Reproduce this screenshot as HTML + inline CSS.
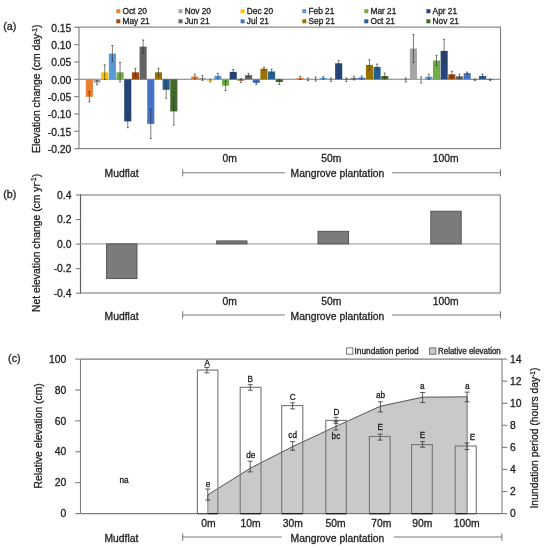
<!DOCTYPE html>
<html><head><meta charset="utf-8"><style>
html,body{margin:0;padding:0;background:#fff;}
svg{display:block;font-family:"Liberation Sans", sans-serif;filter:blur(0.3px);} text{stroke:#1e1e1e;stroke-width:0.3px;}
</style></head><body>
<svg width="545" height="550" viewBox="0 0 545 550">
<rect width="545" height="550" fill="#fff"/>
<rect x="116.30" y="9.20" width="4.00" height="4.00" fill="#ED7D31" stroke="none" stroke-width="0"/>
<text x="122.5" y="13.5" font-size="8.3" text-anchor="start" fill="#1e1e1e" >Oct 20</text>
<rect x="178.50" y="9.20" width="4.00" height="4.00" fill="#A5A5A5" stroke="none" stroke-width="0"/>
<text x="184.7" y="13.5" font-size="8.3" text-anchor="start" fill="#1e1e1e" >Nov 20</text>
<rect x="240.60" y="9.20" width="4.00" height="4.00" fill="#FFC000" stroke="none" stroke-width="0"/>
<text x="246.79999999999998" y="13.5" font-size="8.3" text-anchor="start" fill="#1e1e1e" >Dec 20</text>
<rect x="302.30" y="9.20" width="4.00" height="4.00" fill="#5B9BD5" stroke="none" stroke-width="0"/>
<text x="308.5" y="13.5" font-size="8.3" text-anchor="start" fill="#1e1e1e" >Feb 21</text>
<rect x="364.30" y="9.20" width="4.00" height="4.00" fill="#70AD47" stroke="none" stroke-width="0"/>
<text x="370.5" y="13.5" font-size="8.3" text-anchor="start" fill="#1e1e1e" >Mar 21</text>
<rect x="426.40" y="9.20" width="4.00" height="4.00" fill="#264478" stroke="none" stroke-width="0"/>
<text x="432.59999999999997" y="13.5" font-size="8.3" text-anchor="start" fill="#1e1e1e" >Apr 21</text>
<rect x="116.30" y="19.30" width="4.00" height="4.00" fill="#9E480E" stroke="none" stroke-width="0"/>
<text x="122.5" y="23.6" font-size="8.3" text-anchor="start" fill="#1e1e1e" >May 21</text>
<rect x="178.50" y="19.30" width="4.00" height="4.00" fill="#636363" stroke="none" stroke-width="0"/>
<text x="184.7" y="23.6" font-size="8.3" text-anchor="start" fill="#1e1e1e" >Jun 21</text>
<rect x="240.60" y="19.30" width="4.00" height="4.00" fill="#4472C4" stroke="none" stroke-width="0"/>
<text x="246.79999999999998" y="23.6" font-size="8.3" text-anchor="start" fill="#1e1e1e" >Jul 21</text>
<rect x="302.30" y="19.30" width="4.00" height="4.00" fill="#997300" stroke="none" stroke-width="0"/>
<text x="308.5" y="23.6" font-size="8.3" text-anchor="start" fill="#1e1e1e" >Sep 21</text>
<rect x="364.30" y="19.30" width="4.00" height="4.00" fill="#255E91" stroke="none" stroke-width="0"/>
<text x="370.5" y="23.6" font-size="8.3" text-anchor="start" fill="#1e1e1e" >Oct 21</text>
<rect x="426.40" y="19.30" width="4.00" height="4.00" fill="#43682B" stroke="none" stroke-width="0"/>
<text x="432.59999999999997" y="23.6" font-size="8.3" text-anchor="start" fill="#1e1e1e" >Nov 21</text>
<rect x="79.0" y="27.1" width="421.5" height="121.5" fill="none" stroke="#7c7c7c" stroke-width="1.1"/>
<line x1="74.2" y1="27.3" x2="79.0" y2="27.3" stroke="#7c7c7c" stroke-width="1.1"/>
<text x="71.3" y="31.700000000000003" font-size="10.35" text-anchor="end" fill="#1e1e1e" >0.15</text>
<line x1="74.2" y1="44.629999999999995" x2="79.0" y2="44.629999999999995" stroke="#7c7c7c" stroke-width="1.1"/>
<text x="71.3" y="49.029999999999994" font-size="10.35" text-anchor="end" fill="#1e1e1e" >0.10</text>
<line x1="74.2" y1="61.959999999999994" x2="79.0" y2="61.959999999999994" stroke="#7c7c7c" stroke-width="1.1"/>
<text x="71.3" y="66.36" font-size="10.35" text-anchor="end" fill="#1e1e1e" >0.05</text>
<line x1="74.2" y1="79.28999999999999" x2="79.0" y2="79.28999999999999" stroke="#7c7c7c" stroke-width="1.1"/>
<text x="71.3" y="83.69" font-size="10.35" text-anchor="end" fill="#1e1e1e" >0.00</text>
<line x1="74.2" y1="96.61999999999999" x2="79.0" y2="96.61999999999999" stroke="#7c7c7c" stroke-width="1.1"/>
<text x="71.3" y="101.02" font-size="10.35" text-anchor="end" fill="#1e1e1e" >-0.05</text>
<line x1="74.2" y1="113.94999999999999" x2="79.0" y2="113.94999999999999" stroke="#7c7c7c" stroke-width="1.1"/>
<text x="71.3" y="118.35" font-size="10.35" text-anchor="end" fill="#1e1e1e" >-0.10</text>
<line x1="74.2" y1="131.28" x2="79.0" y2="131.28" stroke="#7c7c7c" stroke-width="1.1"/>
<text x="71.3" y="135.68" font-size="10.35" text-anchor="end" fill="#1e1e1e" >-0.15</text>
<line x1="74.2" y1="148.60999999999999" x2="79.0" y2="148.60999999999999" stroke="#7c7c7c" stroke-width="1.1"/>
<text x="71.3" y="153.01" font-size="10.35" text-anchor="end" fill="#1e1e1e" >-0.20</text>
<line x1="79.0" y1="79.3" x2="500.5" y2="79.3" stroke="#7c7c7c" stroke-width="1.1"/>
<rect x="85.80" y="79.30" width="7.10" height="17.50" fill="#ED7D31" stroke="none" stroke-width="0"/>
<rect x="93.48" y="79.30" width="7.10" height="3.30" fill="#A5A5A5" stroke="none" stroke-width="0"/>
<rect x="101.16" y="72.30" width="7.10" height="7.00" fill="#FFC000" stroke="none" stroke-width="0"/>
<rect x="108.84" y="53.60" width="7.10" height="25.70" fill="#5B9BD5" stroke="none" stroke-width="0"/>
<rect x="116.52" y="72.30" width="7.10" height="7.00" fill="#70AD47" stroke="none" stroke-width="0"/>
<rect x="124.20" y="79.30" width="7.10" height="42.10" fill="#264478" stroke="none" stroke-width="0"/>
<rect x="131.88" y="72.30" width="7.10" height="7.00" fill="#9E480E" stroke="none" stroke-width="0"/>
<rect x="139.56" y="46.60" width="7.10" height="32.70" fill="#636363" stroke="none" stroke-width="0"/>
<rect x="147.24" y="79.30" width="7.10" height="44.60" fill="#4472C4" stroke="none" stroke-width="0"/>
<rect x="154.92" y="72.30" width="7.10" height="7.00" fill="#997300" stroke="none" stroke-width="0"/>
<rect x="162.60" y="79.30" width="7.10" height="10.50" fill="#255E91" stroke="none" stroke-width="0"/>
<rect x="170.28" y="79.30" width="7.10" height="32.10" fill="#43682B" stroke="none" stroke-width="0"/>
<rect x="191.27" y="76.50" width="7.10" height="2.80" fill="#ED7D31" stroke="none" stroke-width="0"/>
<rect x="198.95" y="77.90" width="7.10" height="1.40" fill="#A5A5A5" stroke="none" stroke-width="0"/>
<rect x="206.63" y="79.30" width="7.10" height="1.30" fill="#FFC000" stroke="none" stroke-width="0"/>
<rect x="214.31" y="75.80" width="7.10" height="3.50" fill="#5B9BD5" stroke="none" stroke-width="0"/>
<rect x="221.99" y="79.30" width="7.10" height="6.40" fill="#70AD47" stroke="none" stroke-width="0"/>
<rect x="229.67" y="71.90" width="7.10" height="7.40" fill="#264478" stroke="none" stroke-width="0"/>
<rect x="237.35" y="79.30" width="7.10" height="1.30" fill="#9E480E" stroke="none" stroke-width="0"/>
<rect x="245.03" y="75.10" width="7.10" height="4.20" fill="#636363" stroke="none" stroke-width="0"/>
<rect x="252.71" y="79.30" width="7.10" height="3.60" fill="#4472C4" stroke="none" stroke-width="0"/>
<rect x="260.39" y="68.70" width="7.10" height="10.60" fill="#997300" stroke="none" stroke-width="0"/>
<rect x="268.07" y="71.50" width="7.10" height="7.80" fill="#255E91" stroke="none" stroke-width="0"/>
<rect x="275.75" y="79.30" width="7.10" height="2.70" fill="#43682B" stroke="none" stroke-width="0"/>
<rect x="296.74" y="77.90" width="7.10" height="1.40" fill="#ED7D31" stroke="none" stroke-width="0"/>
<rect x="304.42" y="79.30" width="7.10" height="0.50" fill="#A5A5A5" stroke="none" stroke-width="0"/>
<rect x="319.78" y="77.90" width="7.10" height="1.40" fill="#5B9BD5" stroke="none" stroke-width="0"/>
<rect x="327.46" y="79.30" width="7.10" height="0.40" fill="#70AD47" stroke="none" stroke-width="0"/>
<rect x="335.14" y="63.30" width="7.10" height="16.00" fill="#264478" stroke="none" stroke-width="0"/>
<rect x="342.82" y="79.30" width="7.10" height="0.50" fill="#9E480E" stroke="none" stroke-width="0"/>
<rect x="350.50" y="78.10" width="7.10" height="1.20" fill="#636363" stroke="none" stroke-width="0"/>
<rect x="358.18" y="77.60" width="7.10" height="1.70" fill="#4472C4" stroke="none" stroke-width="0"/>
<rect x="365.86" y="64.90" width="7.10" height="14.40" fill="#997300" stroke="none" stroke-width="0"/>
<rect x="373.54" y="66.90" width="7.10" height="12.40" fill="#255E91" stroke="none" stroke-width="0"/>
<rect x="381.22" y="76.00" width="7.10" height="3.30" fill="#43682B" stroke="none" stroke-width="0"/>
<rect x="402.21" y="79.30" width="7.10" height="0.70" fill="#ED7D31" stroke="none" stroke-width="0"/>
<rect x="409.89" y="48.50" width="7.10" height="30.80" fill="#A5A5A5" stroke="none" stroke-width="0"/>
<rect x="417.57" y="79.30" width="7.10" height="0.60" fill="#FFC000" stroke="none" stroke-width="0"/>
<rect x="425.25" y="76.70" width="7.10" height="2.60" fill="#5B9BD5" stroke="none" stroke-width="0"/>
<rect x="432.93" y="60.50" width="7.10" height="18.80" fill="#70AD47" stroke="none" stroke-width="0"/>
<rect x="440.61" y="50.90" width="7.10" height="28.40" fill="#264478" stroke="none" stroke-width="0"/>
<rect x="448.29" y="74.30" width="7.10" height="5.00" fill="#9E480E" stroke="none" stroke-width="0"/>
<rect x="455.97" y="76.30" width="7.10" height="3.00" fill="#636363" stroke="none" stroke-width="0"/>
<rect x="463.65" y="73.20" width="7.10" height="6.10" fill="#4472C4" stroke="none" stroke-width="0"/>
<rect x="471.33" y="79.30" width="7.10" height="0.50" fill="#997300" stroke="none" stroke-width="0"/>
<rect x="479.01" y="76.00" width="7.10" height="3.30" fill="#255E91" stroke="none" stroke-width="0"/>
<rect x="486.69" y="79.30" width="7.10" height="0.50" fill="#43682B" stroke="none" stroke-width="0"/>
<line x1="89.35" y1="91.4" x2="89.35" y2="101.8" stroke="#333" stroke-width="0.65"/>
<line x1="88.25" y1="91.4" x2="90.44999999999999" y2="91.4" stroke="#333" stroke-width="0.65"/>
<line x1="88.25" y1="101.8" x2="90.44999999999999" y2="101.8" stroke="#333" stroke-width="0.65"/>
<line x1="97.02999999999999" y1="80.7" x2="97.02999999999999" y2="84.6" stroke="#333" stroke-width="0.65"/>
<line x1="95.92999999999999" y1="80.7" x2="98.12999999999998" y2="80.7" stroke="#333" stroke-width="0.65"/>
<line x1="95.92999999999999" y1="84.6" x2="98.12999999999998" y2="84.6" stroke="#333" stroke-width="0.65"/>
<line x1="104.71" y1="64.8" x2="104.71" y2="79.6" stroke="#333" stroke-width="0.65"/>
<line x1="103.61" y1="64.8" x2="105.80999999999999" y2="64.8" stroke="#333" stroke-width="0.65"/>
<line x1="103.61" y1="79.6" x2="105.80999999999999" y2="79.6" stroke="#333" stroke-width="0.65"/>
<line x1="112.39" y1="45.5" x2="112.39" y2="61.8" stroke="#333" stroke-width="0.65"/>
<line x1="111.29" y1="45.5" x2="113.49" y2="45.5" stroke="#333" stroke-width="0.65"/>
<line x1="111.29" y1="61.8" x2="113.49" y2="61.8" stroke="#333" stroke-width="0.65"/>
<line x1="120.07" y1="62.5" x2="120.07" y2="81.8" stroke="#333" stroke-width="0.65"/>
<line x1="118.97" y1="62.5" x2="121.16999999999999" y2="62.5" stroke="#333" stroke-width="0.65"/>
<line x1="118.97" y1="81.8" x2="121.16999999999999" y2="81.8" stroke="#333" stroke-width="0.65"/>
<line x1="127.74999999999999" y1="114.8" x2="127.74999999999999" y2="127.7" stroke="#333" stroke-width="0.65"/>
<line x1="126.64999999999999" y1="114.8" x2="128.85" y2="114.8" stroke="#333" stroke-width="0.65"/>
<line x1="126.64999999999999" y1="127.7" x2="128.85" y2="127.7" stroke="#333" stroke-width="0.65"/>
<line x1="135.43" y1="68.2" x2="135.43" y2="76.1" stroke="#333" stroke-width="0.65"/>
<line x1="134.33" y1="68.2" x2="136.53" y2="68.2" stroke="#333" stroke-width="0.65"/>
<line x1="134.33" y1="76.1" x2="136.53" y2="76.1" stroke="#333" stroke-width="0.65"/>
<line x1="143.11" y1="40" x2="143.11" y2="53.4" stroke="#333" stroke-width="0.65"/>
<line x1="142.01000000000002" y1="40" x2="144.21" y2="40" stroke="#333" stroke-width="0.65"/>
<line x1="142.01000000000002" y1="53.4" x2="144.21" y2="53.4" stroke="#333" stroke-width="0.65"/>
<line x1="150.79000000000002" y1="109.1" x2="150.79000000000002" y2="138.6" stroke="#333" stroke-width="0.65"/>
<line x1="149.69000000000003" y1="109.1" x2="151.89000000000001" y2="109.1" stroke="#333" stroke-width="0.65"/>
<line x1="149.69000000000003" y1="138.6" x2="151.89000000000001" y2="138.6" stroke="#333" stroke-width="0.65"/>
<line x1="158.47000000000003" y1="68.2" x2="158.47000000000003" y2="76.1" stroke="#333" stroke-width="0.65"/>
<line x1="157.37000000000003" y1="68.2" x2="159.57000000000002" y2="68.2" stroke="#333" stroke-width="0.65"/>
<line x1="157.37000000000003" y1="76.1" x2="159.57000000000002" y2="76.1" stroke="#333" stroke-width="0.65"/>
<line x1="166.15" y1="81.8" x2="166.15" y2="98.2" stroke="#333" stroke-width="0.65"/>
<line x1="165.05" y1="81.8" x2="167.25" y2="81.8" stroke="#333" stroke-width="0.65"/>
<line x1="165.05" y1="98.2" x2="167.25" y2="98.2" stroke="#333" stroke-width="0.65"/>
<line x1="173.82999999999998" y1="98.2" x2="173.82999999999998" y2="125" stroke="#333" stroke-width="0.65"/>
<line x1="172.73" y1="98.2" x2="174.92999999999998" y2="98.2" stroke="#333" stroke-width="0.65"/>
<line x1="172.73" y1="125" x2="174.92999999999998" y2="125" stroke="#333" stroke-width="0.65"/>
<line x1="194.82000000000002" y1="74.2" x2="194.82000000000002" y2="78.8" stroke="#333" stroke-width="0.65"/>
<line x1="193.72000000000003" y1="74.2" x2="195.92000000000002" y2="74.2" stroke="#333" stroke-width="0.65"/>
<line x1="193.72000000000003" y1="78.8" x2="195.92000000000002" y2="78.8" stroke="#333" stroke-width="0.65"/>
<line x1="202.50000000000003" y1="75.4" x2="202.50000000000003" y2="80.4" stroke="#333" stroke-width="0.65"/>
<line x1="201.40000000000003" y1="75.4" x2="203.60000000000002" y2="75.4" stroke="#333" stroke-width="0.65"/>
<line x1="201.40000000000003" y1="80.4" x2="203.60000000000002" y2="80.4" stroke="#333" stroke-width="0.65"/>
<line x1="210.18" y1="79.2" x2="210.18" y2="82" stroke="#333" stroke-width="0.65"/>
<line x1="209.08" y1="79.2" x2="211.28" y2="79.2" stroke="#333" stroke-width="0.65"/>
<line x1="209.08" y1="82" x2="211.28" y2="82" stroke="#333" stroke-width="0.65"/>
<line x1="217.86" y1="73.3" x2="217.86" y2="78.3" stroke="#333" stroke-width="0.65"/>
<line x1="216.76000000000002" y1="73.3" x2="218.96" y2="73.3" stroke="#333" stroke-width="0.65"/>
<line x1="216.76000000000002" y1="78.3" x2="218.96" y2="78.3" stroke="#333" stroke-width="0.65"/>
<line x1="225.54000000000002" y1="80.9" x2="225.54000000000002" y2="90.5" stroke="#333" stroke-width="0.65"/>
<line x1="224.44000000000003" y1="80.9" x2="226.64000000000001" y2="80.9" stroke="#333" stroke-width="0.65"/>
<line x1="224.44000000000003" y1="90.5" x2="226.64000000000001" y2="90.5" stroke="#333" stroke-width="0.65"/>
<line x1="233.22000000000003" y1="69.6" x2="233.22000000000003" y2="74.2" stroke="#333" stroke-width="0.65"/>
<line x1="232.12000000000003" y1="69.6" x2="234.32000000000002" y2="69.6" stroke="#333" stroke-width="0.65"/>
<line x1="232.12000000000003" y1="74.2" x2="234.32000000000002" y2="74.2" stroke="#333" stroke-width="0.65"/>
<line x1="240.90000000000003" y1="78.7" x2="240.90000000000003" y2="82.5" stroke="#333" stroke-width="0.65"/>
<line x1="239.80000000000004" y1="78.7" x2="242.00000000000003" y2="78.7" stroke="#333" stroke-width="0.65"/>
<line x1="239.80000000000004" y1="82.5" x2="242.00000000000003" y2="82.5" stroke="#333" stroke-width="0.65"/>
<line x1="248.58" y1="73.3" x2="248.58" y2="76.9" stroke="#333" stroke-width="0.65"/>
<line x1="247.48000000000002" y1="73.3" x2="249.68" y2="73.3" stroke="#333" stroke-width="0.65"/>
<line x1="247.48000000000002" y1="76.9" x2="249.68" y2="76.9" stroke="#333" stroke-width="0.65"/>
<line x1="256.26" y1="81.2" x2="256.26" y2="84.6" stroke="#333" stroke-width="0.65"/>
<line x1="255.16" y1="81.2" x2="257.36" y2="81.2" stroke="#333" stroke-width="0.65"/>
<line x1="255.16" y1="84.6" x2="257.36" y2="84.6" stroke="#333" stroke-width="0.65"/>
<line x1="263.94" y1="67.3" x2="263.94" y2="70.1" stroke="#333" stroke-width="0.65"/>
<line x1="262.84" y1="67.3" x2="265.04" y2="67.3" stroke="#333" stroke-width="0.65"/>
<line x1="262.84" y1="70.1" x2="265.04" y2="70.1" stroke="#333" stroke-width="0.65"/>
<line x1="271.62" y1="69.2" x2="271.62" y2="73.8" stroke="#333" stroke-width="0.65"/>
<line x1="270.52" y1="69.2" x2="272.72" y2="69.2" stroke="#333" stroke-width="0.65"/>
<line x1="270.52" y1="73.8" x2="272.72" y2="73.8" stroke="#333" stroke-width="0.65"/>
<line x1="279.3" y1="79.4" x2="279.3" y2="84.6" stroke="#333" stroke-width="0.65"/>
<line x1="278.2" y1="79.4" x2="280.40000000000003" y2="79.4" stroke="#333" stroke-width="0.65"/>
<line x1="278.2" y1="84.6" x2="280.40000000000003" y2="84.6" stroke="#333" stroke-width="0.65"/>
<line x1="300.29" y1="76.3" x2="300.29" y2="79.5" stroke="#333" stroke-width="0.65"/>
<line x1="299.19" y1="76.3" x2="301.39000000000004" y2="76.3" stroke="#333" stroke-width="0.65"/>
<line x1="299.19" y1="79.5" x2="301.39000000000004" y2="79.5" stroke="#333" stroke-width="0.65"/>
<line x1="307.97" y1="78.0" x2="307.97" y2="80.6" stroke="#333" stroke-width="0.65"/>
<line x1="306.87" y1="78.0" x2="309.07000000000005" y2="78.0" stroke="#333" stroke-width="0.65"/>
<line x1="306.87" y1="80.6" x2="309.07000000000005" y2="80.6" stroke="#333" stroke-width="0.65"/>
<line x1="315.65000000000003" y1="77" x2="315.65000000000003" y2="81.1" stroke="#333" stroke-width="0.65"/>
<line x1="314.55" y1="77" x2="316.75000000000006" y2="77" stroke="#333" stroke-width="0.65"/>
<line x1="314.55" y1="81.1" x2="316.75000000000006" y2="81.1" stroke="#333" stroke-width="0.65"/>
<line x1="323.33000000000004" y1="76.6" x2="323.33000000000004" y2="79.2" stroke="#333" stroke-width="0.65"/>
<line x1="322.23" y1="76.6" x2="324.43000000000006" y2="76.6" stroke="#333" stroke-width="0.65"/>
<line x1="322.23" y1="79.2" x2="324.43000000000006" y2="79.2" stroke="#333" stroke-width="0.65"/>
<line x1="331.01000000000005" y1="78" x2="331.01000000000005" y2="81.4" stroke="#333" stroke-width="0.65"/>
<line x1="329.91" y1="78" x2="332.11000000000007" y2="78" stroke="#333" stroke-width="0.65"/>
<line x1="329.91" y1="81.4" x2="332.11000000000007" y2="81.4" stroke="#333" stroke-width="0.65"/>
<line x1="338.69" y1="60.7" x2="338.69" y2="65.9" stroke="#333" stroke-width="0.65"/>
<line x1="337.59" y1="60.7" x2="339.79" y2="60.7" stroke="#333" stroke-width="0.65"/>
<line x1="337.59" y1="65.9" x2="339.79" y2="65.9" stroke="#333" stroke-width="0.65"/>
<line x1="346.37" y1="78" x2="346.37" y2="81.6" stroke="#333" stroke-width="0.65"/>
<line x1="345.27" y1="78" x2="347.47" y2="78" stroke="#333" stroke-width="0.65"/>
<line x1="345.27" y1="81.6" x2="347.47" y2="81.6" stroke="#333" stroke-width="0.65"/>
<line x1="354.05" y1="76.3" x2="354.05" y2="79.9" stroke="#333" stroke-width="0.65"/>
<line x1="352.95" y1="76.3" x2="355.15000000000003" y2="76.3" stroke="#333" stroke-width="0.65"/>
<line x1="352.95" y1="79.9" x2="355.15000000000003" y2="79.9" stroke="#333" stroke-width="0.65"/>
<line x1="361.73" y1="76" x2="361.73" y2="79.2" stroke="#333" stroke-width="0.65"/>
<line x1="360.63" y1="76" x2="362.83000000000004" y2="76" stroke="#333" stroke-width="0.65"/>
<line x1="360.63" y1="79.2" x2="362.83000000000004" y2="79.2" stroke="#333" stroke-width="0.65"/>
<line x1="369.41" y1="59.8" x2="369.41" y2="69.9" stroke="#333" stroke-width="0.65"/>
<line x1="368.31" y1="59.8" x2="370.51000000000005" y2="59.8" stroke="#333" stroke-width="0.65"/>
<line x1="368.31" y1="69.9" x2="370.51000000000005" y2="69.9" stroke="#333" stroke-width="0.65"/>
<line x1="377.09000000000003" y1="64.1" x2="377.09000000000003" y2="69.7" stroke="#333" stroke-width="0.65"/>
<line x1="375.99" y1="64.1" x2="378.19000000000005" y2="64.1" stroke="#333" stroke-width="0.65"/>
<line x1="375.99" y1="69.7" x2="378.19000000000005" y2="69.7" stroke="#333" stroke-width="0.65"/>
<line x1="384.77000000000004" y1="73.1" x2="384.77000000000004" y2="78.9" stroke="#333" stroke-width="0.65"/>
<line x1="383.67" y1="73.1" x2="385.87000000000006" y2="73.1" stroke="#333" stroke-width="0.65"/>
<line x1="383.67" y1="78.9" x2="385.87000000000006" y2="78.9" stroke="#333" stroke-width="0.65"/>
<line x1="405.76" y1="78" x2="405.76" y2="82.1" stroke="#333" stroke-width="0.65"/>
<line x1="404.65999999999997" y1="78" x2="406.86" y2="78" stroke="#333" stroke-width="0.65"/>
<line x1="404.65999999999997" y1="82.1" x2="406.86" y2="82.1" stroke="#333" stroke-width="0.65"/>
<line x1="413.44" y1="34.6" x2="413.44" y2="62.5" stroke="#333" stroke-width="0.65"/>
<line x1="412.34" y1="34.6" x2="414.54" y2="34.6" stroke="#333" stroke-width="0.65"/>
<line x1="412.34" y1="62.5" x2="414.54" y2="62.5" stroke="#333" stroke-width="0.65"/>
<line x1="421.12" y1="76.9" x2="421.12" y2="82.9" stroke="#333" stroke-width="0.65"/>
<line x1="420.02" y1="76.9" x2="422.22" y2="76.9" stroke="#333" stroke-width="0.65"/>
<line x1="420.02" y1="82.9" x2="422.22" y2="82.9" stroke="#333" stroke-width="0.65"/>
<line x1="428.8" y1="74.2" x2="428.8" y2="79.2" stroke="#333" stroke-width="0.65"/>
<line x1="427.7" y1="74.2" x2="429.90000000000003" y2="74.2" stroke="#333" stroke-width="0.65"/>
<line x1="427.7" y1="79.2" x2="429.90000000000003" y2="79.2" stroke="#333" stroke-width="0.65"/>
<line x1="436.47999999999996" y1="55.3" x2="436.47999999999996" y2="65.4" stroke="#333" stroke-width="0.65"/>
<line x1="435.37999999999994" y1="55.3" x2="437.58" y2="55.3" stroke="#333" stroke-width="0.65"/>
<line x1="435.37999999999994" y1="65.4" x2="437.58" y2="65.4" stroke="#333" stroke-width="0.65"/>
<line x1="444.15999999999997" y1="39.3" x2="444.15999999999997" y2="62.5" stroke="#333" stroke-width="0.65"/>
<line x1="443.05999999999995" y1="39.3" x2="445.26" y2="39.3" stroke="#333" stroke-width="0.65"/>
<line x1="443.05999999999995" y1="62.5" x2="445.26" y2="62.5" stroke="#333" stroke-width="0.65"/>
<line x1="451.84" y1="71.3" x2="451.84" y2="77.3" stroke="#333" stroke-width="0.65"/>
<line x1="450.73999999999995" y1="71.3" x2="452.94" y2="71.3" stroke="#333" stroke-width="0.65"/>
<line x1="450.73999999999995" y1="77.3" x2="452.94" y2="77.3" stroke="#333" stroke-width="0.65"/>
<line x1="459.52" y1="74.1" x2="459.52" y2="78.5" stroke="#333" stroke-width="0.65"/>
<line x1="458.41999999999996" y1="74.1" x2="460.62" y2="74.1" stroke="#333" stroke-width="0.65"/>
<line x1="458.41999999999996" y1="78.5" x2="460.62" y2="78.5" stroke="#333" stroke-width="0.65"/>
<line x1="467.2" y1="72.1" x2="467.2" y2="74.3" stroke="#333" stroke-width="0.65"/>
<line x1="466.09999999999997" y1="72.1" x2="468.3" y2="72.1" stroke="#333" stroke-width="0.65"/>
<line x1="466.09999999999997" y1="74.3" x2="468.3" y2="74.3" stroke="#333" stroke-width="0.65"/>
<line x1="474.88" y1="79" x2="474.88" y2="80.6" stroke="#333" stroke-width="0.65"/>
<line x1="473.78" y1="79" x2="475.98" y2="79" stroke="#333" stroke-width="0.65"/>
<line x1="473.78" y1="80.6" x2="475.98" y2="80.6" stroke="#333" stroke-width="0.65"/>
<line x1="482.56" y1="74.1" x2="482.56" y2="77.9" stroke="#333" stroke-width="0.65"/>
<line x1="481.46" y1="74.1" x2="483.66" y2="74.1" stroke="#333" stroke-width="0.65"/>
<line x1="481.46" y1="77.9" x2="483.66" y2="77.9" stroke="#333" stroke-width="0.65"/>
<line x1="490.23999999999995" y1="79" x2="490.23999999999995" y2="80.6" stroke="#333" stroke-width="0.65"/>
<line x1="489.13999999999993" y1="79" x2="491.34" y2="79" stroke="#333" stroke-width="0.65"/>
<line x1="489.13999999999993" y1="80.6" x2="491.34" y2="80.6" stroke="#333" stroke-width="0.65"/>
<text transform="translate(40.4,152.9) rotate(-90)" font-size="10.35" fill="#1e1e1e">Elevation change (cm day<tspan font-size="6.5" dy="-3.5">-1</tspan><tspan dy="3.5">)</tspan></text>
<text x="3.2" y="29.7" font-size="10.8" text-anchor="start" fill="#1e1e1e" >(a)</text>
<text x="104.6" y="177.4" font-size="10.35" text-anchor="start" fill="#1e1e1e" >Mudflat</text>
<text x="229.7" y="161.8" font-size="10.35" text-anchor="middle" fill="#1e1e1e" >0m</text>
<text x="331.4" y="161.8" font-size="10.35" text-anchor="middle" fill="#1e1e1e" >50m</text>
<text x="445.7" y="161.8" font-size="10.35" text-anchor="middle" fill="#1e1e1e" >100m</text>
<text x="337.4" y="177.4" font-size="10.35" text-anchor="middle" fill="#1e1e1e" >Mangrove plantation</text>
<line x1="182.7" y1="172.8" x2="284.8" y2="172.8" stroke="#555" stroke-width="0.8"/>
<line x1="392.2" y1="172.8" x2="500.5" y2="172.8" stroke="#555" stroke-width="0.8"/>
<line x1="182.7" y1="169.3" x2="182.7" y2="176.3" stroke="#555" stroke-width="0.8"/>
<line x1="500.5" y1="169.3" x2="500.5" y2="176.3" stroke="#555" stroke-width="0.8"/>
<text x="3.2" y="197.7" font-size="10.8" text-anchor="start" fill="#1e1e1e" >(b)</text>
<rect x="80.5" y="195.0" width="419.8" height="98.0" fill="none" stroke="#7c7c7c" stroke-width="1.1"/>
<line x1="80.5" y1="194.5" x2="80.5" y2="293.5" stroke="#5e5e5e" stroke-width="1.1"/>
<line x1="75.9" y1="195.0" x2="80.5" y2="195.0" stroke="#7c7c7c" stroke-width="1.1"/>
<text x="71.5" y="198.6" font-size="10.35" text-anchor="end" fill="#1e1e1e" >0.4</text>
<line x1="75.9" y1="219.55" x2="80.5" y2="219.55" stroke="#7c7c7c" stroke-width="1.1"/>
<text x="71.5" y="223.15" font-size="10.35" text-anchor="end" fill="#1e1e1e" >0.2</text>
<line x1="75.9" y1="244.1" x2="80.5" y2="244.1" stroke="#7c7c7c" stroke-width="1.1"/>
<text x="71.5" y="247.7" font-size="10.35" text-anchor="end" fill="#1e1e1e" >0.0</text>
<line x1="75.9" y1="268.65" x2="80.5" y2="268.65" stroke="#7c7c7c" stroke-width="1.1"/>
<text x="71.5" y="272.25" font-size="10.35" text-anchor="end" fill="#1e1e1e" >-0.2</text>
<line x1="75.9" y1="293.2" x2="80.5" y2="293.2" stroke="#7c7c7c" stroke-width="1.1"/>
<text x="71.5" y="296.8" font-size="10.35" text-anchor="end" fill="#1e1e1e" >-0.4</text>
<line x1="80.5" y1="243.9" x2="500.3" y2="243.9" stroke="#a8a8a8" stroke-width="1.2"/>
<rect x="106.60" y="243.90" width="30.40" height="34.70" fill="#7b7b7b" stroke="#4e4e4e" stroke-width="0.9"/>
<rect x="216.60" y="240.90" width="30.40" height="3.00" fill="#7b7b7b" stroke="#4e4e4e" stroke-width="0.9"/>
<rect x="318.00" y="231.30" width="30.60" height="12.60" fill="#7b7b7b" stroke="#4e4e4e" stroke-width="0.9"/>
<rect x="430.80" y="211.20" width="30.40" height="32.70" fill="#7b7b7b" stroke="#4e4e4e" stroke-width="0.9"/>
<text transform="translate(39.8,311.9) rotate(-90)" font-size="10.35" fill="#1e1e1e">Net elevation change (cm yr<tspan font-size="6.5" dy="-3.5">-1</tspan><tspan dy="3.5">)</tspan></text>
<text x="104.6" y="320.2" font-size="10.35" text-anchor="start" fill="#1e1e1e" >Mudflat</text>
<text x="229.7" y="304.5" font-size="10.35" text-anchor="middle" fill="#1e1e1e" >0m</text>
<text x="331.4" y="304.5" font-size="10.35" text-anchor="middle" fill="#1e1e1e" >50m</text>
<text x="445.7" y="304.5" font-size="10.35" text-anchor="middle" fill="#1e1e1e" >100m</text>
<text x="337.4" y="320.2" font-size="10.35" text-anchor="middle" fill="#1e1e1e" >Mangrove plantation</text>
<line x1="182.7" y1="315" x2="284.8" y2="315" stroke="#555" stroke-width="0.8"/>
<line x1="392.2" y1="315" x2="500.5" y2="315" stroke="#555" stroke-width="0.8"/>
<line x1="182.7" y1="311.3" x2="182.7" y2="318.6" stroke="#555" stroke-width="0.8"/>
<line x1="500.5" y1="311.3" x2="500.5" y2="318.6" stroke="#555" stroke-width="0.8"/>
<text x="8.1" y="361.5" font-size="10.8" text-anchor="start" fill="#1e1e1e" >(c)</text>
<polygon points="207.8,513.6 207.8,494.9 250.2,468.3 292.6,446.6 336.0,426.4 380.4,406.2 422.6,397.2 467.1,396.8 467.1,513.6" fill="#c9c9c9" stroke="none"/>
<line x1="207.8" y1="494.9" x2="207.8" y2="513.6" stroke="#999" stroke-width="1.3"/>
<line x1="467.1" y1="396.8" x2="467.1" y2="513.6" stroke="#8a8a8a" stroke-width="1.3"/>
<polyline points="207.8,494.9 250.2,468.3 292.6,446.6 336.0,426.4 380.4,406.2 422.6,397.2 467.1,396.8" fill="none" stroke="#444" stroke-width="0.9"/>
<rect x="197.40" y="370.10" width="20.50" height="143.50" fill="none" stroke="#757575" stroke-width="1.1"/>
<rect x="240.20" y="387.30" width="20.80" height="126.30" fill="none" stroke="#757575" stroke-width="1.1"/>
<rect x="281.70" y="405.60" width="21.10" height="108.00" fill="none" stroke="#757575" stroke-width="1.1"/>
<rect x="325.80" y="420.40" width="20.50" height="93.20" fill="none" stroke="#757575" stroke-width="1.1"/>
<rect x="369.40" y="436.50" width="20.70" height="77.10" fill="none" stroke="#757575" stroke-width="1.1"/>
<rect x="411.60" y="444.60" width="20.70" height="69.00" fill="none" stroke="#757575" stroke-width="1.1"/>
<rect x="455.20" y="446.00" width="21.10" height="67.60" fill="none" stroke="#757575" stroke-width="1.1"/>
<line x1="206.9" y1="367.5" x2="206.9" y2="372.8" stroke="#333" stroke-width="0.8"/>
<line x1="204.4" y1="367.5" x2="209.4" y2="367.5" stroke="#333" stroke-width="0.8"/>
<line x1="204.4" y1="372.8" x2="209.4" y2="372.8" stroke="#333" stroke-width="0.8"/>
<line x1="250.3" y1="384.7" x2="250.3" y2="390.3" stroke="#333" stroke-width="0.8"/>
<line x1="247.8" y1="384.7" x2="252.8" y2="384.7" stroke="#333" stroke-width="0.8"/>
<line x1="247.8" y1="390.3" x2="252.8" y2="390.3" stroke="#333" stroke-width="0.8"/>
<line x1="292.6" y1="402.8" x2="292.6" y2="408.9" stroke="#333" stroke-width="0.8"/>
<line x1="290.1" y1="402.8" x2="295.1" y2="402.8" stroke="#333" stroke-width="0.8"/>
<line x1="290.1" y1="408.9" x2="295.1" y2="408.9" stroke="#333" stroke-width="0.8"/>
<line x1="336.0" y1="417.3" x2="336.0" y2="423.4" stroke="#333" stroke-width="0.8"/>
<line x1="333.5" y1="417.3" x2="338.5" y2="417.3" stroke="#333" stroke-width="0.8"/>
<line x1="333.5" y1="423.4" x2="338.5" y2="423.4" stroke="#333" stroke-width="0.8"/>
<line x1="380.2" y1="434.1" x2="380.2" y2="440.1" stroke="#333" stroke-width="0.8"/>
<line x1="377.7" y1="434.1" x2="382.7" y2="434.1" stroke="#333" stroke-width="0.8"/>
<line x1="377.7" y1="440.1" x2="382.7" y2="440.1" stroke="#333" stroke-width="0.8"/>
<line x1="422.6" y1="441.6" x2="422.6" y2="447.2" stroke="#333" stroke-width="0.8"/>
<line x1="420.1" y1="441.6" x2="425.1" y2="441.6" stroke="#333" stroke-width="0.8"/>
<line x1="420.1" y1="447.2" x2="425.1" y2="447.2" stroke="#333" stroke-width="0.8"/>
<line x1="467.0" y1="443" x2="467.0" y2="449.6" stroke="#333" stroke-width="0.8"/>
<line x1="464.5" y1="443" x2="469.5" y2="443" stroke="#333" stroke-width="0.8"/>
<line x1="464.5" y1="449.6" x2="469.5" y2="449.6" stroke="#333" stroke-width="0.8"/>
<line x1="207.8" y1="489" x2="207.8" y2="500.1" stroke="#333" stroke-width="0.8"/>
<line x1="205.3" y1="489" x2="210.3" y2="489" stroke="#333" stroke-width="0.8"/>
<line x1="205.3" y1="500.1" x2="210.3" y2="500.1" stroke="#333" stroke-width="0.8"/>
<line x1="250.2" y1="461.2" x2="250.2" y2="471.9" stroke="#333" stroke-width="0.8"/>
<line x1="247.7" y1="461.2" x2="252.7" y2="461.2" stroke="#333" stroke-width="0.8"/>
<line x1="247.7" y1="471.9" x2="252.7" y2="471.9" stroke="#333" stroke-width="0.8"/>
<line x1="292.6" y1="441.6" x2="292.6" y2="450.2" stroke="#333" stroke-width="0.8"/>
<line x1="290.1" y1="441.6" x2="295.1" y2="441.6" stroke="#333" stroke-width="0.8"/>
<line x1="290.1" y1="450.2" x2="295.1" y2="450.2" stroke="#333" stroke-width="0.8"/>
<line x1="336.0" y1="421.4" x2="336.0" y2="430" stroke="#333" stroke-width="0.8"/>
<line x1="333.5" y1="421.4" x2="338.5" y2="421.4" stroke="#333" stroke-width="0.8"/>
<line x1="333.5" y1="430" x2="338.5" y2="430" stroke="#333" stroke-width="0.8"/>
<line x1="380.4" y1="401.8" x2="380.4" y2="411.9" stroke="#333" stroke-width="0.8"/>
<line x1="377.9" y1="401.8" x2="382.9" y2="401.8" stroke="#333" stroke-width="0.8"/>
<line x1="377.9" y1="411.9" x2="382.9" y2="411.9" stroke="#333" stroke-width="0.8"/>
<line x1="422.6" y1="392.5" x2="422.6" y2="402.6" stroke="#333" stroke-width="0.8"/>
<line x1="420.1" y1="392.5" x2="425.1" y2="392.5" stroke="#333" stroke-width="0.8"/>
<line x1="420.1" y1="402.6" x2="425.1" y2="402.6" stroke="#333" stroke-width="0.8"/>
<line x1="467.1" y1="392.1" x2="467.1" y2="401.8" stroke="#333" stroke-width="0.8"/>
<line x1="464.6" y1="392.1" x2="469.6" y2="392.1" stroke="#333" stroke-width="0.8"/>
<line x1="464.6" y1="401.8" x2="469.6" y2="401.8" stroke="#333" stroke-width="0.8"/>
<text x="207.15" y="365.8" font-size="8.2" text-anchor="middle" fill="#1e1e1e" >A</text>
<text x="250.35" y="381.9" font-size="8.2" text-anchor="middle" fill="#1e1e1e" >B</text>
<text x="292.65" y="399.9" font-size="8.2" text-anchor="middle" fill="#1e1e1e" >C</text>
<text x="336.45" y="414.6" font-size="8.2" text-anchor="middle" fill="#1e1e1e" >D</text>
<text x="380.2" y="429.5" font-size="8.2" text-anchor="middle" fill="#1e1e1e" >E</text>
<text x="422.55" y="438.2" font-size="8.2" text-anchor="middle" fill="#1e1e1e" >E</text>
<text x="472.4" y="439.7" font-size="8.2" text-anchor="middle" fill="#1e1e1e" >E</text>
<text x="208.05" y="486.7" font-size="8.2" text-anchor="middle" fill="#1e1e1e" >e</text>
<text x="250.8" y="458.3" font-size="8.2" text-anchor="middle" fill="#1e1e1e" >de</text>
<text x="292.65" y="438.2" font-size="8.2" text-anchor="middle" fill="#1e1e1e" >cd</text>
<text x="335.95" y="438.6" font-size="8.2" text-anchor="middle" fill="#1e1e1e" >bc</text>
<text x="380.55" y="397.6" font-size="8.2" text-anchor="middle" fill="#1e1e1e" >ab</text>
<text x="422.25" y="388.8" font-size="8.2" text-anchor="middle" fill="#1e1e1e" >a</text>
<text x="467.25" y="388.8" font-size="8.2" text-anchor="middle" fill="#1e1e1e" >a</text>
<text x="124.1" y="482.9" font-size="8.3" text-anchor="middle" fill="#1e1e1e" >na</text>
<line x1="80.5" y1="359.1" x2="502" y2="359.1" stroke="#7c7c7c" stroke-width="1.1"/>
<line x1="80.5" y1="359.1" x2="80.5" y2="513.6" stroke="#7c7c7c" stroke-width="1.1"/>
<line x1="502" y1="359.1" x2="502" y2="513.6" stroke="#7c7c7c" stroke-width="1.1"/>
<line x1="80.5" y1="513.6" x2="502" y2="513.6" stroke="#7c7c7c" stroke-width="1.1"/>
<line x1="197.4" y1="513.6" x2="217.9" y2="513.6" stroke="#555" stroke-width="1.1"/>
<line x1="207.8" y1="513.6" x2="217.9" y2="513.6" stroke="#222" stroke-width="1.1"/>
<line x1="240.2" y1="513.6" x2="261.0" y2="513.6" stroke="#555" stroke-width="1.1"/>
<line x1="240.2" y1="513.6" x2="261.0" y2="513.6" stroke="#222" stroke-width="1.1"/>
<line x1="281.7" y1="513.6" x2="302.8" y2="513.6" stroke="#555" stroke-width="1.1"/>
<line x1="281.7" y1="513.6" x2="302.8" y2="513.6" stroke="#222" stroke-width="1.1"/>
<line x1="325.8" y1="513.6" x2="346.3" y2="513.6" stroke="#555" stroke-width="1.1"/>
<line x1="325.8" y1="513.6" x2="346.3" y2="513.6" stroke="#222" stroke-width="1.1"/>
<line x1="369.4" y1="513.6" x2="390.09999999999997" y2="513.6" stroke="#555" stroke-width="1.1"/>
<line x1="369.4" y1="513.6" x2="390.09999999999997" y2="513.6" stroke="#222" stroke-width="1.1"/>
<line x1="411.6" y1="513.6" x2="432.3" y2="513.6" stroke="#555" stroke-width="1.1"/>
<line x1="411.6" y1="513.6" x2="432.3" y2="513.6" stroke="#222" stroke-width="1.1"/>
<line x1="455.2" y1="513.6" x2="476.3" y2="513.6" stroke="#555" stroke-width="1.1"/>
<line x1="455.2" y1="513.6" x2="467.1" y2="513.6" stroke="#222" stroke-width="1.1"/>
<line x1="75.3" y1="359.1" x2="80.5" y2="359.1" stroke="#7c7c7c" stroke-width="1.1"/>
<text x="66.3" y="362.70000000000005" font-size="10.35" text-anchor="end" fill="#1e1e1e" >100</text>
<line x1="75.3" y1="390.0" x2="80.5" y2="390.0" stroke="#7c7c7c" stroke-width="1.1"/>
<text x="66.3" y="393.6" font-size="10.35" text-anchor="end" fill="#1e1e1e" >80</text>
<line x1="75.3" y1="420.90000000000003" x2="80.5" y2="420.90000000000003" stroke="#7c7c7c" stroke-width="1.1"/>
<text x="66.3" y="424.50000000000006" font-size="10.35" text-anchor="end" fill="#1e1e1e" >60</text>
<line x1="75.3" y1="451.8" x2="80.5" y2="451.8" stroke="#7c7c7c" stroke-width="1.1"/>
<text x="66.3" y="455.40000000000003" font-size="10.35" text-anchor="end" fill="#1e1e1e" >40</text>
<line x1="75.3" y1="482.70000000000005" x2="80.5" y2="482.70000000000005" stroke="#7c7c7c" stroke-width="1.1"/>
<text x="66.3" y="486.30000000000007" font-size="10.35" text-anchor="end" fill="#1e1e1e" >20</text>
<line x1="75.3" y1="513.6" x2="80.5" y2="513.6" stroke="#7c7c7c" stroke-width="1.1"/>
<text x="66.3" y="517.2" font-size="10.35" text-anchor="end" fill="#1e1e1e" >0</text>
<line x1="502" y1="359.1" x2="507.2" y2="359.1" stroke="#7c7c7c" stroke-width="1.1"/>
<text x="510" y="362.70000000000005" font-size="10.35" text-anchor="start" fill="#1e1e1e" >14</text>
<line x1="502" y1="381.1714285714286" x2="507.2" y2="381.1714285714286" stroke="#7c7c7c" stroke-width="1.1"/>
<text x="510" y="384.7714285714286" font-size="10.35" text-anchor="start" fill="#1e1e1e" >12</text>
<line x1="502" y1="403.2428571428572" x2="507.2" y2="403.2428571428572" stroke="#7c7c7c" stroke-width="1.1"/>
<text x="510" y="406.8428571428572" font-size="10.35" text-anchor="start" fill="#1e1e1e" >10</text>
<line x1="502" y1="425.31428571428575" x2="507.2" y2="425.31428571428575" stroke="#7c7c7c" stroke-width="1.1"/>
<text x="510" y="428.91428571428577" font-size="10.35" text-anchor="start" fill="#1e1e1e" >8</text>
<line x1="502" y1="447.3857142857143" x2="507.2" y2="447.3857142857143" stroke="#7c7c7c" stroke-width="1.1"/>
<text x="510" y="450.9857142857143" font-size="10.35" text-anchor="start" fill="#1e1e1e" >6</text>
<line x1="502" y1="469.4571428571429" x2="507.2" y2="469.4571428571429" stroke="#7c7c7c" stroke-width="1.1"/>
<text x="510" y="473.05714285714294" font-size="10.35" text-anchor="start" fill="#1e1e1e" >4</text>
<line x1="502" y1="491.52857142857147" x2="507.2" y2="491.52857142857147" stroke="#7c7c7c" stroke-width="1.1"/>
<text x="510" y="495.1285714285715" font-size="10.35" text-anchor="start" fill="#1e1e1e" >2</text>
<line x1="502" y1="513.6" x2="507.2" y2="513.6" stroke="#7c7c7c" stroke-width="1.1"/>
<text x="510" y="517.2" font-size="10.35" text-anchor="start" fill="#1e1e1e" >0</text>
<text transform="translate(42.4,488.5) rotate(-90)" font-size="10.35" fill="#1e1e1e">Relative elevation (cm)</text>
<text transform="translate(538.2,508.5) rotate(-90)" font-size="10.35" fill="#1e1e1e">Inundation period (hours day<tspan font-size="6.5" dy="-3.5">-1</tspan><tspan dy="3.5">)</tspan></text>
<rect x="346.60" y="347.90" width="6.30" height="6.30" fill="#fff" stroke="#555" stroke-width="0.8"/>
<text x="354.5" y="354.3" font-size="8.3" text-anchor="start" fill="#1e1e1e" >Inundation period</text>
<rect x="429.60" y="347.90" width="6.30" height="6.30" fill="#cbcbcb" stroke="#555" stroke-width="0.8"/>
<text x="438.0" y="354.3" font-size="8.3" text-anchor="start" fill="#1e1e1e" textLength="62.8" lengthAdjust="spacingAndGlyphs">Relative elevation</text>
<text x="208.4" y="526.9" font-size="10.35" text-anchor="middle" fill="#1e1e1e" >0m</text>
<text x="250.6" y="526.9" font-size="10.35" text-anchor="middle" fill="#1e1e1e" >10m</text>
<text x="292.7" y="526.9" font-size="10.35" text-anchor="middle" fill="#1e1e1e" >30m</text>
<text x="335.5" y="526.9" font-size="10.35" text-anchor="middle" fill="#1e1e1e" >50m</text>
<text x="381.2" y="526.9" font-size="10.35" text-anchor="middle" fill="#1e1e1e" >70m</text>
<text x="422.4" y="526.9" font-size="10.35" text-anchor="middle" fill="#1e1e1e" >90m</text>
<text x="466.7" y="526.9" font-size="10.35" text-anchor="middle" fill="#1e1e1e" >100m</text>
<text x="104.5" y="541.7" font-size="10.35" text-anchor="start" fill="#1e1e1e" >Mudflat</text>
<text x="337.4" y="541.5" font-size="10.35" text-anchor="middle" fill="#1e1e1e" >Mangrove plantation</text>
<line x1="182.7" y1="537" x2="281.6" y2="537" stroke="#555" stroke-width="0.8"/>
<line x1="393.8" y1="537" x2="501.9" y2="537" stroke="#555" stroke-width="0.8"/>
<line x1="182.7" y1="533.5" x2="182.7" y2="540.8" stroke="#555" stroke-width="0.8"/>
<line x1="501.9" y1="533.5" x2="501.9" y2="540.8" stroke="#555" stroke-width="0.8"/>
</svg>
</body></html>
